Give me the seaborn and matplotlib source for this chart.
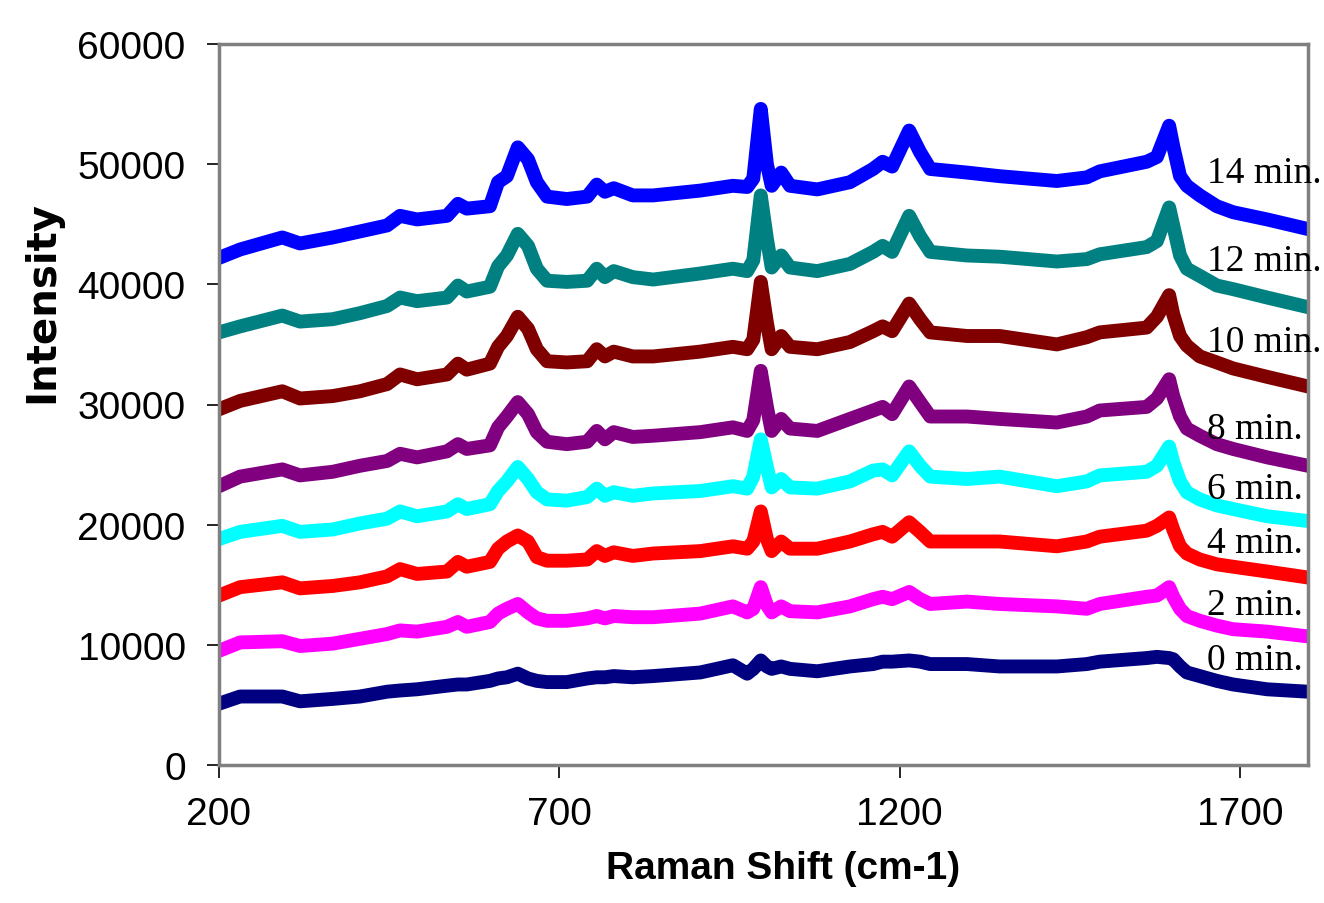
import matplotlib
matplotlib.use("Agg")
import matplotlib.pyplot as plt
import seaborn as sns
import pandas as pd

# ---------------- data ----------------
raman_shift = [200, 231, 293, 319, 367, 407, 447, 466, 491, 535,
               551, 564, 598, 610, 623, 639, 654, 667, 682, 711,
               741, 755, 767, 780, 808, 838, 907, 955, 976, 985,
               996, 1005, 1012, 1026, 1039, 1079, 1127, 1161, 1175, 1189,
               1214, 1230, 1245, 1299, 1347, 1431, 1475, 1494, 1563, 1578,
               1596, 1602, 1612, 1622, 1641, 1666, 1690, 1740, 1800]

min0 = [5100, 5700, 5700, 5300, 5500, 5700, 6100, 6200, 6300, 6600,
        6700, 6700, 7000, 7200, 7300, 7600, 7200, 7000, 6900, 6900,
        7200, 7300, 7300, 7400, 7300, 7400, 7700, 8300, 7600, 8000,
        8700, 8200, 8000, 8200, 8000, 7800, 8200, 8400, 8600, 8600,
        8700, 8600, 8400, 8400, 8200, 8200, 8400, 8600, 8900, 9000,
        8900, 8800, 8200, 7700, 7400, 7000, 6700, 6300, 6100]

min2 = [9500, 10200, 10300, 9900, 10100, 10500, 10900, 11200, 11100, 11500,
        11900, 11500, 11900, 12600, 13000, 13400, 12700, 12200, 12000, 12000,
        12200, 12400, 12200, 12400, 12300, 12300, 12600, 13200, 12700, 13000,
        14800, 13300, 12700, 13200, 12800, 12700, 13200, 13800, 14000, 13800,
        14400, 13800, 13400, 13600, 13400, 13200, 13000, 13400, 14000, 14100,
        14800, 14000, 13000, 12400, 12000, 11600, 11300, 11100, 10700]

min4 = [14100, 14800, 15200, 14700, 14900, 15200, 15700, 16300, 15900, 16100,
        16900, 16500, 16900, 18000, 18600, 19100, 18600, 17300, 17000, 17000,
        17100, 17800, 17400, 17700, 17400, 17600, 17800, 18200, 18000, 18600,
        21100, 18800, 17800, 18600, 18000, 18000, 18600, 19200, 19400, 19000,
        20200, 19400, 18600, 18600, 18600, 18200, 18600, 19000, 19500, 19900,
        20600, 19600, 18200, 17600, 17100, 16700, 16500, 16100, 15600]

min6 = [18800, 19400, 19900, 19400, 19600, 20100, 20500, 21100, 20700, 21100,
        21700, 21300, 21700, 22800, 23600, 24800, 23800, 22700, 22100, 22000,
        22300, 23000, 22400, 22700, 22400, 22600, 22800, 23200, 23000, 24000,
        27100, 24800, 23100, 23800, 23100, 23000, 23600, 24500, 24600, 24100,
        26100, 24900, 24000, 23800, 24000, 23200, 23600, 24100, 24400, 24900,
        26500, 25200, 23600, 22700, 22100, 21600, 21300, 20700, 20300]

min8 = [23200, 24000, 24600, 24100, 24400, 24900, 25300, 25900, 25600, 26100,
        26700, 26300, 26600, 28100, 29000, 30200, 29200, 27700, 26900, 26700,
        26900, 27800, 27100, 27700, 27300, 27400, 27700, 28100, 27800, 28700,
        32800, 29800, 27800, 28800, 28000, 27800, 28800, 29500, 29800, 29200,
        31500, 30200, 29000, 29000, 28800, 28500, 29000, 29500, 29800, 30500,
        32100, 30700, 29000, 28000, 27400, 26700, 26300, 25600, 24900]

min10 = [29600, 30300, 31100, 30500, 30700, 31100, 31700, 32500, 32100, 32500,
         33400, 32900, 33400, 34800, 35700, 37300, 36300, 34600, 33600, 33500,
         33600, 34600, 34000, 34400, 34000, 34000, 34400, 34800, 34600, 35400,
         40200, 36800, 34600, 35700, 34800, 34600, 35200, 36100, 36500, 36100,
         38400, 37100, 36000, 35700, 35700, 35000, 35600, 36000, 36400, 37300,
         39100, 37500, 35700, 34900, 34000, 33500, 33000, 32300, 31500]

min12 = [36000, 36500, 37400, 36900, 37100, 37600, 38200, 38900, 38600, 38900,
         39900, 39400, 39800, 41500, 42400, 44200, 43200, 41300, 40300, 40200,
         40300, 41300, 40600, 41100, 40600, 40400, 40900, 41300, 41100, 42000,
         47400, 43800, 41400, 42400, 41400, 41100, 41700, 42700, 43200, 42700,
         45700, 44000, 42700, 42400, 42300, 41900, 42100, 42500, 43100, 43600,
         46400, 44900, 42400, 41300, 40700, 39900, 39600, 38900, 38100]

min14 = [42200, 42900, 43900, 43400, 43900, 44400, 44900, 45700, 45400, 45700,
         46700, 46300, 46500, 48500, 49000, 51400, 50400, 48500, 47300, 47100,
         47300, 48300, 47700, 48000, 47400, 47400, 47800, 48200, 48100, 48800,
         54600, 50000, 48200, 49300, 48200, 47900, 48500, 49600, 50200, 49800,
         52800, 51000, 49600, 49300, 49000, 48600, 48900, 49400, 50200, 50600,
         53200, 51500, 49000, 48200, 47400, 46500, 46000, 45400, 44600]

series_labels = ["0 min.", "2 min.", "4 min.", "6 min.", "8 min.",
                 "10 min.", "12 min.", "14 min."]
series_values = [min0, min2, min4, min6, min8, min10, min12, min14]

x_ticks = [200, 700, 1200, 1700]
y_ticks = [0, 10000, 20000, 30000, 40000, 50000, 60000]

# ---------------- styling ----------------
colors = ["#000080", "#FF00FF", "#FF0000", "#00FFFF", "#800080",
          "#800000", "#008080", "#0000FF"]
label_y = [8800, 13300, 18500, 23000, 28000, 35200, 42000, 49300]

sns.set_style("white")
plt.rcParams["font.family"] = ["Liberation Sans", "DejaVu Sans"]
plt.rcParams.update({"text.color": "black", "axes.labelcolor": "black",
                     "xtick.color": "black", "ytick.color": "black"})

rows = []
for lab, vals in zip(series_labels, series_values):
    for xv, yv in zip(raman_shift, vals):
        rows.append({"shift": xv, "intensity": yv, "time": lab})
df = pd.DataFrame(rows)

fig = plt.figure(figsize=(13.24, 9.04), dpi=100)
ax = fig.add_axes([219 / 1324, 1 - 766 / 904, (1308 - 219) / 1324, (766 - 45) / 904])

sns.lineplot(data=df, x="shift", y="intensity", hue="time",
             hue_order=series_labels, palette=dict(zip(series_labels, colors)),
             estimator=None, sort=False, legend=False, linewidth=10,
             solid_capstyle="round", solid_joinstyle="round", ax=ax)

ax.set_xlim(200, 1800)
ax.set_ylim(0, 60000)
ax.set_xticks(x_ticks)
ax.set_yticks(y_ticks)
ax.set_xticklabels([str(v) for v in x_ticks])
ax.set_yticklabels([str(v) for v in y_ticks])

ax.tick_params(axis="both", direction="out", length=9, width=1.2,
               color="black", left=True, bottom=True)
ax.tick_params(axis="y", labelsize=28, pad=15)
ax.tick_params(axis="x", labelsize=28, pad=13)

for s in ax.spines.values():
    s.set_visible(True)
    s.set_color("#808080")
    s.set_linewidth(2.5)

ax.set_xlabel("Raman Shift (cm-1)", fontsize=28, fontweight="bold")
ax.xaxis.set_label_coords(0.518, -0.118)
ax.set_ylabel("Intensity", fontsize=29, fontweight="bold",
              family=["DejaVu Sans"])
ax.yaxis.set_label_coords(-0.144, 0.644)

for lab, ly in zip(series_labels, label_y):
    ax.text(1652, ly, lab, ha="left", va="center", fontsize=27,
            family=["Liberation Serif", "DejaVu Serif"], color="black",
            clip_on=False, zorder=5)

fig.savefig("out.png", dpi=100)
